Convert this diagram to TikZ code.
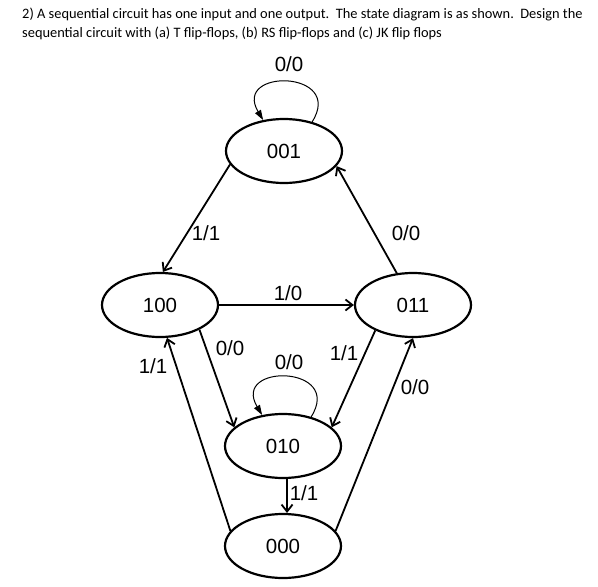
\documentclass[tikz,border=0pt]{standalone}
\usepackage{fontspec}
\setmainfont{Liberation Sans}
\newfontfamily\arialf{Liberation Sans}
\newfontfamily\calibri{Carlito}
\usetikzlibrary{shapes.geometric,arrows.meta}
\begin{document}
\begin{tikzpicture}[x=1pt,y=1pt,
  state/.style={ellipse, draw, line width=2.2pt, minimum width=116pt, minimum height=64pt, inner sep=0pt, font=\arialf\fontsize{20.5}{24}\selectfont},
  arr/.style={line width=1.8pt, -{Straight Barb[length=7pt,width=11pt]}},
  selfloop/.style={line width=1pt, -{Triangle[length=10pt,width=6.5pt]}},
  lab/.style={font=\arialf\fontsize{20.5}{24}\selectfont, inner sep=0pt},
  hdr/.style={font=\calibri\fontsize{14.4}{19}\selectfont, inner sep=0pt, anchor=base west}]
\useasboundingbox (0,0) rectangle (598,-587);
\node[hdr] (h1) at (22,-18) {2) A sequential circuit has one input and one output.\ \ The state diagram is as shown.\ \ Design the};
\node[hdr] (h2) at (22,-37) {sequential circuit with (a) T flip-flops, (b) RS flip-flops and (c) JK flip flops};

\node[state] (s001) at (284,-151) {001};
\node[state] (s100) at (160,-305) {100};
\node[state] (s011) at (413,-305) {011};
\node[state] (s010) at (283,-446) {010};
\node[state] (s000) at (283,-546) {000};

\draw[selfloop] (s001.46) .. controls +(33,52) and +(-31,52) .. (s001.124);
\draw[selfloop] (s010.46) .. controls +(33,52) and +(-31,52) .. (s010.124);

\draw[arr] (s001.194) -- (s100.85);
\draw[arr] (s011.117) -- (s001.344);
\draw[arr] (s100.east) -- (s011.west);
\draw[arr] (s100.328) -- (s010.159);
\draw[arr] (s011.214) -- (s010.21);
\draw[arr] (s000.164) -- (s100.282);
\draw[arr] (s000.16) -- (s011.270);
\draw[arr] (s010.277) -- (s000.83);

\node[lab] (l1) at (289,-64) {0/0};
\node[lab] (l2) at (206,-233) {1/1};
\node[lab] (l3) at (406,-233) {0/0};
\node[lab] (l4) at (288,-293) {1/0};
\node[lab] (l5) at (230,-348) {0/0};
\node[lab] (l6) at (289,-362) {0/0};
\node[lab] (l7) at (344,-353) {1/1};
\node[lab] (l8) at (153,-366) {1/1};
\node[lab] (l9) at (415,-387) {0/0};
\node[lab] (l10) at (304,-493) {1/1};
\end{tikzpicture}
\end{document}
